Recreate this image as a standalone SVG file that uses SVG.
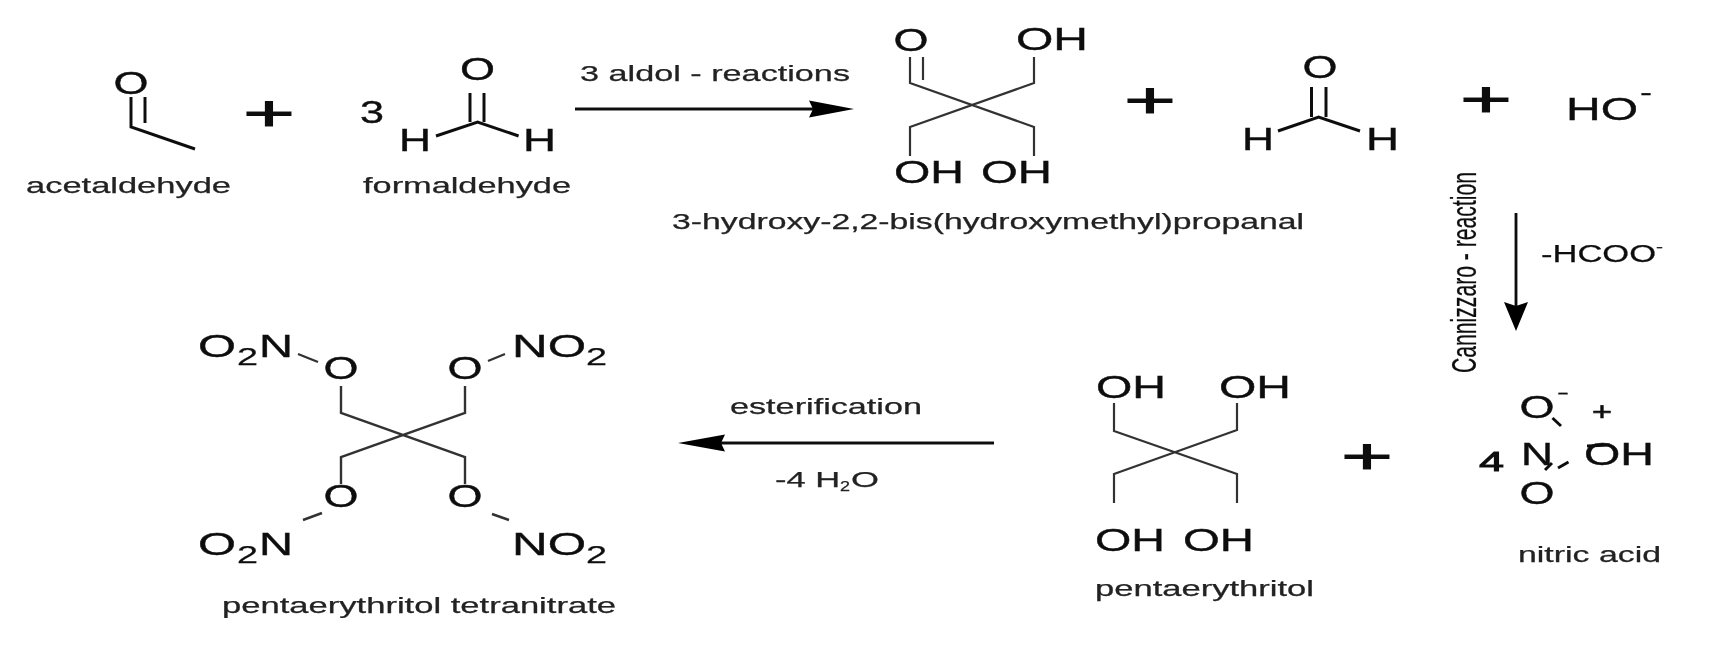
<svg xmlns="http://www.w3.org/2000/svg" width="1719" height="646" viewBox="0 0 1719 646">
<style>
text{font-family:"Liberation Sans",Arial,sans-serif;fill:#111;stroke:#111;stroke-width:.25}
.a{font-size:32px;stroke-width:.4}
.s{font-size:23px}
.l{font-size:22px;fill:#222;stroke:#222}
.p{font-size:50px;stroke-width:1}
.b{fill:none;stroke:#111;stroke-width:3;stroke-linejoin:miter}
.t{fill:none;stroke:#333;stroke-width:2.2}
.c{fill:none;stroke:#111;stroke-width:2.8}
.h{fill:#000}
</style>
<defs><filter id="soft" x="0" y="0" width="100%" height="100%"><feGaussianBlur stdDeviation="0.55"/></filter></defs>
<rect width="1719" height="646" fill="#fff"/>
<g filter="url(#soft)">
<g id="acetaldehyde">
<text class="a" x="113.500" y="93.500" textLength="35" lengthAdjust="spacingAndGlyphs">O</text>
<path class="b" d="M131 97V127L195 149M145 97V123"/>
<text class="l" x="26" y="193" textLength="205" lengthAdjust="spacingAndGlyphs">acetaldehyde</text>
</g>
<g id="plus-1"><text class="p" x="243" y="130" textLength="52" lengthAdjust="spacingAndGlyphs">+</text></g>
<g id="formaldehyde">
<text class="a" x="360" y="123" textLength="24" lengthAdjust="spacingAndGlyphs">3</text>
<text class="a" x="460" y="79.500" textLength="35" lengthAdjust="spacingAndGlyphs">O</text>
<path class="b" d="M470 93V122M484 93V122M436 136L477.600 122L518.600 136"/>
<text class="a" x="399" y="151" textLength="32" lengthAdjust="spacingAndGlyphs">H</text>
<text class="a" x="523" y="151" textLength="33" lengthAdjust="spacingAndGlyphs">H</text>
<text class="l" x="363" y="193" textLength="208" lengthAdjust="spacingAndGlyphs">formaldehyde</text>
</g>
<g id="connectors">
<path class="c" d="M575 109H815"/><path class="h" d="M854 109L809 100.500L813 109L809 117.500Z"/>
<path class="c" d="M1516 213V306"/><path class="h" d="M1516 331L1504 302L1516 306L1528 302Z"/>
<path class="c" d="M994 443H720"/><path class="h" d="M678 443L725 434.500L721 443L725 451.500Z"/>
</g>
<g id="aldol-label"><text class="l" x="580" y="80.500" textLength="270" lengthAdjust="spacingAndGlyphs">3 aldol - reactions</text></g>
<g id="triol-aldehyde">
<text class="a" x="893.500" y="50.500" textLength="35" lengthAdjust="spacingAndGlyphs">O</text>
<text class="a" x="1016" y="50" textLength="72" lengthAdjust="spacingAndGlyphs">OH</text>
<path class="t" d="M910 57V83L1034 127V156M923 57V80M1034 57V83L910 127V156"/>
<text class="a" x="894" y="183" textLength="70" lengthAdjust="spacingAndGlyphs">OH</text>
<text class="a" x="981" y="183" textLength="71" lengthAdjust="spacingAndGlyphs">OH</text>
<text class="l" x="672" y="229" textLength="632" lengthAdjust="spacingAndGlyphs">3-hydroxy-2,2-bis(hydroxymethyl)propanal</text>
</g>
<g id="plus-2"><text class="p" x="1124" y="117" textLength="52" lengthAdjust="spacingAndGlyphs">+</text></g>
<g id="formaldehyde-2">
<text class="a" x="1302.500" y="77.500" textLength="35" lengthAdjust="spacingAndGlyphs">O</text>
<path class="b" d="M1311.500 87V117M1326 87V117M1278 131L1318.600 117L1360 131"/>
<text class="a" x="1242" y="150" textLength="32" lengthAdjust="spacingAndGlyphs">H</text>
<text class="a" x="1366" y="150" textLength="33" lengthAdjust="spacingAndGlyphs">H</text>
</g>
<g id="plus-3"><text class="p" x="1460" y="116" textLength="52" lengthAdjust="spacingAndGlyphs">+</text></g>
<g id="hydroxide">
<text class="a" x="1566" y="120" textLength="72" lengthAdjust="spacingAndGlyphs">HO</text>
<text class="s" x="1640" y="100" textLength="12" lengthAdjust="spacingAndGlyphs">-</text>
</g>
<g id="cannizzaro-label"><text transform="translate(1476 373) rotate(-90)" x="0" y="0" textLength="201" lengthAdjust="spacingAndGlyphs" style="font-size:35px">Cannizzaro - reaction</text></g>
<g id="formate-label">
<text class="s" x="1541" y="262" textLength="115" lengthAdjust="spacingAndGlyphs">-HCOO</text>
<text class="l" x="1656" y="252" textLength="7" lengthAdjust="spacingAndGlyphs" style="font-size:14px">-</text>
</g>
<g id="pentaerythritol">
<text class="a" x="1096" y="398" textLength="70" lengthAdjust="spacingAndGlyphs">OH</text>
<text class="a" x="1219" y="398" textLength="72" lengthAdjust="spacingAndGlyphs">OH</text>
<path class="t" d="M1114 403V431L1237 474V503M1237 403V430L1114 474V503"/>
<text class="a" x="1095" y="551" textLength="70" lengthAdjust="spacingAndGlyphs">OH</text>
<text class="a" x="1183" y="551" textLength="71" lengthAdjust="spacingAndGlyphs">OH</text>
<text class="l" x="1095" y="596" textLength="219" lengthAdjust="spacingAndGlyphs">pentaerythritol</text>
</g>
<g id="plus-4"><text class="p" x="1341" y="473" textLength="52" lengthAdjust="spacingAndGlyphs">+</text></g>
<g id="nitric-acid">
<text class="a" x="1479" y="471" textLength="25" lengthAdjust="spacingAndGlyphs" style="font-size:28px;stroke-width:.9">4</text>
<text class="a" x="1519.500" y="417.500" textLength="35" lengthAdjust="spacingAndGlyphs">O</text>
<text class="s" x="1557" y="399" textLength="12" lengthAdjust="spacingAndGlyphs" style="font-size:18px">-</text>
<text x="1592" y="420" textLength="20" lengthAdjust="spacingAndGlyphs" style="font-size:26px;stroke-width:.6">+</text>
<path class="b" d="M1552.500 418L1561 426M1558 468L1568.500 462M1552 463L1545 470M1587 446L1610 445"/>
<text class="a" x="1521" y="465" textLength="32" lengthAdjust="spacingAndGlyphs">N</text>
<text class="a" x="1584" y="465" textLength="70" lengthAdjust="spacingAndGlyphs">OH</text>
<text class="a" x="1519.500" y="503.500" textLength="35" lengthAdjust="spacingAndGlyphs">O</text>
<text class="l" x="1518" y="562" textLength="143" lengthAdjust="spacingAndGlyphs">nitric acid</text>
</g>
<g id="esterification-label">
<text class="l" x="730" y="414" textLength="192" lengthAdjust="spacingAndGlyphs">esterification</text>
<text class="l" x="775" y="487" textLength="65" lengthAdjust="spacingAndGlyphs">-4 H</text>
<text class="l" x="840" y="491" textLength="10" lengthAdjust="spacingAndGlyphs" style="font-size:14px">2</text>
<text class="l" x="851" y="487" textLength="28" lengthAdjust="spacingAndGlyphs">O</text>
</g>
<g id="petn">
<text class="a" x="198" y="357" textLength="38" lengthAdjust="spacingAndGlyphs">O</text>
<text class="s" x="237" y="365" textLength="21" lengthAdjust="spacingAndGlyphs">2</text>
<text class="a" x="259" y="357" textLength="34" lengthAdjust="spacingAndGlyphs">N</text>
<path class="t" d="M298 354L318 362M341 386V413L465 457V484M465 386V413L341 457V484M488 361L505 354M303 520L322 513M492 514L509 520" style="stroke-width:2.4"/>
<text class="a" x="323.500" y="378.500" textLength="35" lengthAdjust="spacingAndGlyphs">O</text>
<text class="a" x="447.500" y="378.500" textLength="35" lengthAdjust="spacingAndGlyphs">O</text>
<text class="a" x="512" y="357" textLength="74" lengthAdjust="spacingAndGlyphs">NO</text>
<text class="s" x="586" y="365" textLength="21" lengthAdjust="spacingAndGlyphs">2</text>
<text class="a" x="323.500" y="506.500" textLength="35" lengthAdjust="spacingAndGlyphs">O</text>
<text class="a" x="447.500" y="506.500" textLength="35" lengthAdjust="spacingAndGlyphs">O</text>
<text class="a" x="198" y="555" textLength="38" lengthAdjust="spacingAndGlyphs">O</text>
<text class="s" x="237" y="563" textLength="21" lengthAdjust="spacingAndGlyphs">2</text>
<text class="a" x="259" y="555" textLength="34" lengthAdjust="spacingAndGlyphs">N</text>
<text class="a" x="512" y="555" textLength="74" lengthAdjust="spacingAndGlyphs">NO</text>
<text class="s" x="586" y="563" textLength="21" lengthAdjust="spacingAndGlyphs">2</text>
<text class="l" x="222" y="613" textLength="394" lengthAdjust="spacingAndGlyphs">pentaerythritol tetranitrate</text>
</g>
</g>
</svg>
